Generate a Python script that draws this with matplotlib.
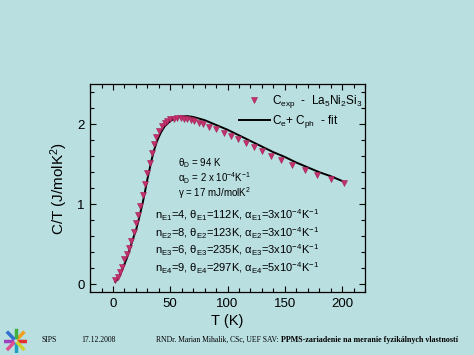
import numpy as np
import matplotlib
matplotlib.use("Agg")
import matplotlib.pyplot as plt
from matplotlib.ticker import MultipleLocator

plt.rcParams['font.family'] = ['Liberation Sans', 'DejaVu Sans']
plt.rcParams['mathtext.fontset'] = 'custom'
plt.rcParams['mathtext.rm'] = 'Liberation Sans'
plt.rcParams['mathtext.it'] = 'Liberation Sans'
plt.rcParams['mathtext.default'] = 'regular'

# measured C/T (down triangles)
T_exp = [2, 4, 6, 8, 10, 12, 14, 16, 18, 20, 22, 24, 26, 28, 30, 32, 34, 36, 38, 40,
         42.5, 45, 47.5, 50, 53, 56, 59, 62, 65, 68, 71, 75, 79, 84, 90, 96.5, 103,
         109.5, 116, 123, 130.5, 138, 147, 156.5, 167.5, 178, 190, 201.5]
C_exp = [0.05, 0.09, 0.15, 0.22, 0.31, 0.38, 0.45, 0.54, 0.65, 0.76, 0.87, 0.98, 1.11,
         1.25, 1.39, 1.52, 1.64, 1.75, 1.84, 1.91, 1.98, 2.02, 2.045, 2.06, 2.07, 2.075,
         2.075, 2.07, 2.065, 2.055, 2.04, 2.02, 2.0, 1.97, 1.935, 1.89, 1.855, 1.81,
         1.77, 1.72, 1.66, 1.60, 1.55, 1.49, 1.43, 1.37, 1.32, 1.26]

# fit Ce + Cph
T_fit = [2, 4, 6, 8, 10, 12, 14, 16, 18, 20, 22, 24, 26, 28, 30, 32, 34, 36, 38, 40,
         42, 45, 50, 55, 60, 65, 70, 80, 90, 100, 110, 120, 130, 140, 150, 160, 170,
         180, 190, 200]
C_fit = [0.03, 0.06, 0.11, 0.18, 0.25, 0.32, 0.41, 0.50, 0.59, 0.67, 0.78, 0.90, 1.02,
         1.16, 1.31, 1.44, 1.57, 1.68, 1.77, 1.84, 1.90, 1.97, 2.04, 2.08, 2.095, 2.10,
         2.09, 2.05, 1.99, 1.93, 1.86, 1.79, 1.72, 1.65, 1.59, 1.52, 1.46, 1.40, 1.35,
         1.29]

bg = '#b9dfe1'
fig = plt.figure(figsize=(4.74, 3.55), dpi=100, facecolor=bg)
ax = fig.add_axes([0.190, 0.177, 0.580, 0.586], facecolor=bg)

ax.plot(T_fit, C_fit, color='black', lw=1.4, zorder=2, label=r'$C_e$+ $C_{ph}$  - fit')
ax.plot(T_exp, C_exp, ls='none', marker='v', ms=4.5, color='#c3306c', mec='#a02055',
        mew=0.4, zorder=3, label=r'$C_{exp}$  -  La$_5$Ni$_2$Si$_3$')

ax.set_xlim(-20, 220)
ax.set_ylim(-0.1, 2.5)
ax.xaxis.set_major_locator(MultipleLocator(50))
ax.xaxis.set_minor_locator(MultipleLocator(10))
ax.yaxis.set_major_locator(MultipleLocator(1))
ax.yaxis.set_minor_locator(MultipleLocator(0.2))
ax.tick_params(which='both', direction='in', top=True, right=True, labelsize=9.5,
               width=0.8, pad=4)
ax.tick_params(which='major', length=4)
ax.tick_params(which='minor', length=3)
for s in ax.spines.values():
    s.set_linewidth(0.9)

ax.set_xlabel('T (K)', fontsize=10.5, labelpad=3)
ax.set_ylabel(r'C/T (J/molK$^2$)', fontsize=11, labelpad=5)

h, l = ax.get_legend_handles_labels()
ax.legend(h[::-1], l[::-1], loc='upper left', bbox_to_anchor=(0.54, 0.955), frameon=False,
          fontsize=8.5, handlelength=2.7, handletextpad=0.15, labelspacing=0.25,
          borderpad=0, borderaxespad=0)

small = [r'$\theta_D$ = 94 K', r'$\alpha_D$ = 2 x 10$^{-4}$K$^{-1}$',
         r'$\gamma$ = 17 mJ/molK$^2$']
for i, s in enumerate(small):
    ax.text(0.32, 0.62 - i * 0.072, s, transform=ax.transAxes, fontsize=7, va='center')

big = [r'n$_{E1}$=4, $\theta_{E1}$=112K, $\alpha_{E1}$=3x10$^{-4}$K$^{-1}$',
       r'n$_{E2}$=8, $\theta_{E2}$=123K, $\alpha_{E2}$=3x10$^{-4}$K$^{-1}$',
       r'n$_{E3}$=6, $\theta_{E3}$=235K, $\alpha_{E3}$=3x10$^{-4}$K$^{-1}$',
       r'n$_{E4}$=9, $\theta_{E4}$=297K, $\alpha_{E4}$=5x10$^{-4}$K$^{-1}$']
for i, s in enumerate(big):
    ax.text(0.236, 0.37 - i * 0.085, s, transform=ax.transAxes, fontsize=8, va='center')

# footer
fig.text(0.087, 0.042, 'SIPS', fontsize=5.5, family='Liberation Serif', va='center')
fig.text(0.172, 0.042, '17.12.2008', fontsize=5.5, family='Liberation Serif', va='center')
t1 = fig.text(0.33, 0.042, 'RNDr. Marian Mihalik, CSc, UEF SAV: ', fontsize=5.5,
              family='Liberation Serif', va='center')
plt.annotate('PPMS-zariadenie na meranie fyzikálnych vlastností', xy=(1, 0.5),
             xycoords=t1, va='center', ha='left', fontsize=5.8,
             family='Liberation Serif', weight='bold', annotation_clip=False)

# small logo
lax = fig.add_axes([0.008, 0.005, 0.05, 0.07])
lax.set_axis_off()
cols = ['#e03030', '#f0a020', '#40b040', '#3070d0', '#a040c0', '#e05090', '#20a0c0', '#d0d030']
for k, c in enumerate(cols):
    a = k * np.pi / 4
    lax.plot([0.3 * np.cos(a), np.cos(a)], [0.3 * np.sin(a), np.sin(a)], color=c, lw=2.5)
lax.set_xlim(-1.1, 1.1)
lax.set_ylim(-1.1, 1.1)

fig.savefig('out.png', dpi=100, facecolor=bg)
